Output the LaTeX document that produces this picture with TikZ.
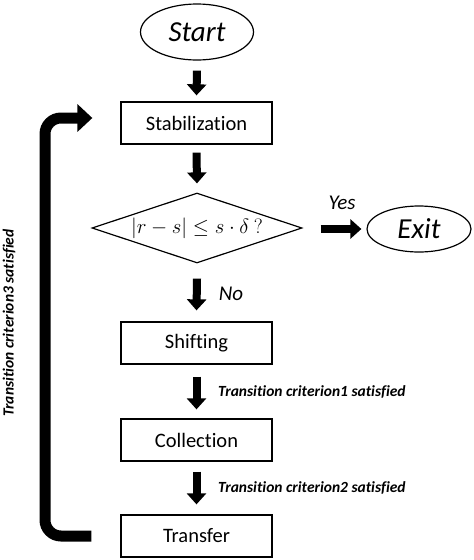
\documentclass[tikz,border=0pt]{standalone}
\usepackage{fontspec}
\setmainfont{Carlito}[Ligatures=NoCommon]
\usetikzlibrary{shapes.geometric,arrows.meta,calc}
\tikzset{
  stepbox/.style={draw, line width=1.3pt, minimum width=151pt, minimum height=42pt, inner sep=0pt, font=\fontsize{20.5}{24}\selectfont},
  term/.style={ellipse, draw, line width=1.2pt, inner sep=0pt, font=\fontsize{29}{34}\selectfont\itshape},
  bigarrow/.style={line width=8pt, -{Triangle[width=19pt,length=11pt]}},
  feedback/.style={line width=11pt, rounded corners=16pt, -{Triangle[width=27pt,length=15pt]}},
  lbl/.style={font=\fontsize{21}{25}\selectfont\itshape, inner sep=0pt},
  crit/.style={font=\fontsize{15.5}{18}\selectfont\bfseries\itshape, inner sep=0pt}
}
\begin{document}
\begin{tikzpicture}[x=1pt,y=-1pt]
\useasboundingbox (0,0) rectangle (474,560);
\node[term, minimum width=113pt, minimum height=56pt] (start) at (197,32) {Start};
\node[stepbox] (stab) at (196.5,123) {Stabilization};
\node[diamond, draw, line width=1.2pt, minimum width=210pt, minimum height=70pt, shape aspect=3, inner sep=0pt] (cond) at (197,228) {};
\node[inner sep=0pt, font=\fontsize{21}{25}\selectfont] (condtext) at (cond.center) {$\left|r-s\right|\le s\cdot\delta\ ?$};
\node[term, minimum width=104pt, minimum height=46pt] (exit) at (419,229) {Exit};
\node[stepbox] (shift) at (196.5,343) {Shifting};
\node[stepbox] (coll) at (196.5,440) {Collection};
\node[stepbox] (trans) at (196.5,536) {Transfer};
\node[lbl] (yes) at (342,203) {Yes};
\node[lbl] (no) at (231,294) {No};
\node[crit, anchor=west] (tc1) at (218,392) {Transition criterion1 satisfied};
\node[crit, anchor=west] (tc2) at (218,488) {Transition criterion2 satisfied};
\node[crit, rotate=90] (tc3) at (9,323) {Transition criterion3 satisfied};
\draw[bigarrow] ([yshift=-10pt]start.south) -- ([yshift=6pt]stab.north);
\draw[bigarrow] ([yshift=-8pt]stab.south) -- ([yshift=9pt]cond.north);
\draw[bigarrow] ([yshift=-15pt]cond.south) -- ([yshift=11pt]shift.north);
\draw[bigarrow] ([yshift=-12pt]shift.south) -- ([yshift=9pt]coll.north);
\draw[bigarrow] ([yshift=-10pt]coll.south) -- ([yshift=10pt]trans.north);
\draw[bigarrow] ([xshift=18pt]cond.east |- exit.west) -- ([xshift=-5pt]exit.west);
\coordinate (loopx) at (45,0);
\coordinate (fbend) at ([xshift=-28pt,yshift=5pt]stab.west);
\draw[feedback] ([xshift=-29pt]trans.west) -| (loopx |- fbend) -- (fbend);
\end{tikzpicture}
\end{document}
